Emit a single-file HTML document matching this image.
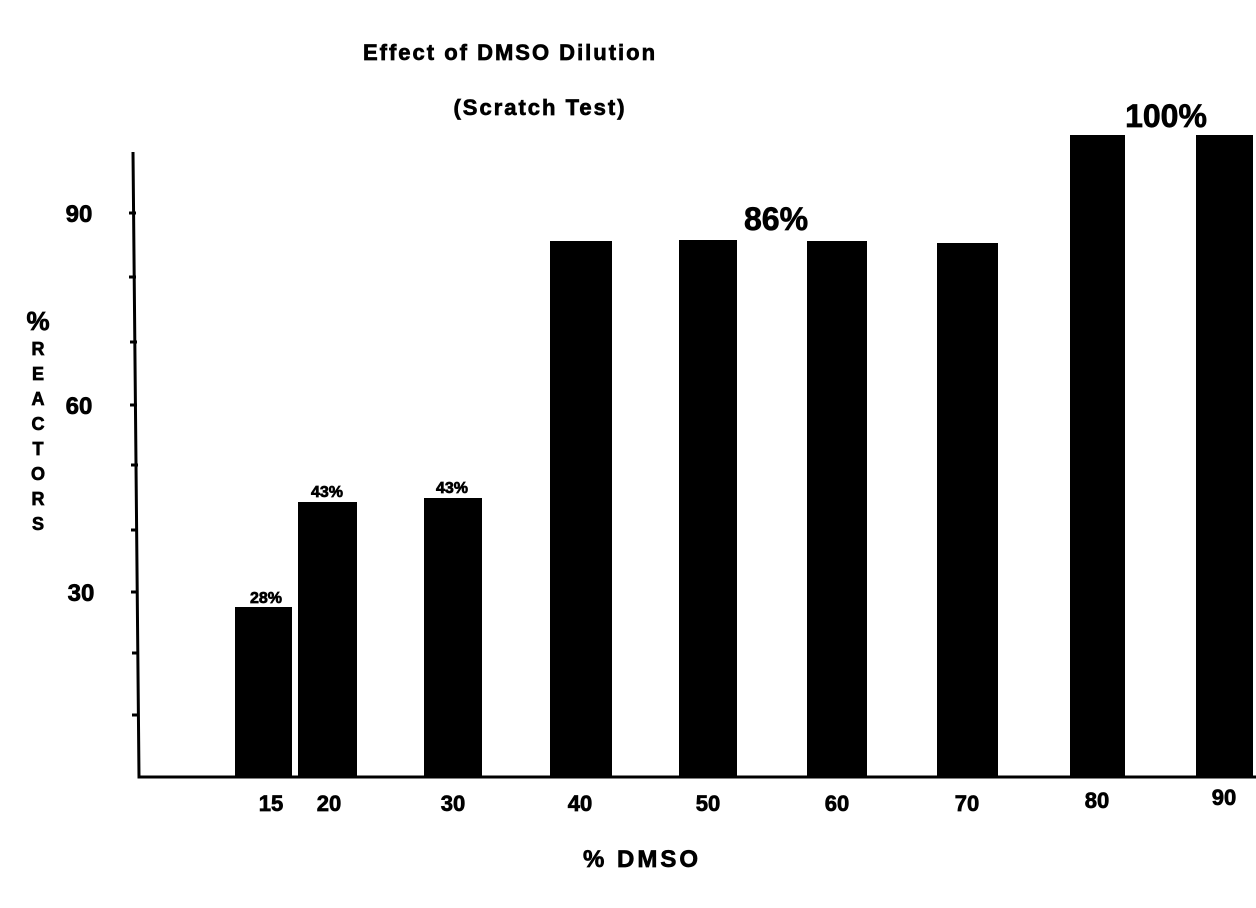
<!DOCTYPE html>
<html><head><meta charset="utf-8"><style>
html,body{margin:0;padding:0;background:#fff;}
svg{display:block;}
text{font-family:"Liberation Sans",sans-serif;font-weight:bold;fill:#000;stroke:#000;stroke-width:0.7;}
</style></head><body>
<svg width="1256" height="908" viewBox="0 0 1256 908" xmlns="http://www.w3.org/2000/svg">
<text x="510" y="60" font-size="22" text-anchor="middle" letter-spacing="2">Effect  of  DMSO  Dilution</text>
<text x="540" y="115" font-size="22" text-anchor="middle" letter-spacing="2">(Scratch  Test)</text>
<path d="M133 152 L139 777 L1256 777" stroke="#000" stroke-width="3" fill="none"/>
<g stroke="#000" stroke-width="3">
<line x1="129" y1="213" x2="136" y2="213"/>
<line x1="129" y1="277" x2="136" y2="277"/>
<line x1="130" y1="342" x2="137" y2="342"/>
<line x1="130" y1="405" x2="137" y2="405"/>
<line x1="131" y1="465" x2="138" y2="465"/>
<line x1="131" y1="530" x2="138" y2="530"/>
<line x1="131" y1="592" x2="138" y2="592"/>
<line x1="132" y1="653" x2="139" y2="653"/>
<line x1="132" y1="715" x2="139" y2="715"/>
</g>
<g font-size="24" text-anchor="middle">
<text x="79" y="222">90</text>
<text x="79" y="414">60</text>
<text x="81" y="601">30</text>
</g>
<g font-size="18" text-anchor="middle">
<text x="38" y="330" font-size="26">%</text>
<text x="38" y="355">R</text>
<text x="38" y="380">E</text>
<text x="38" y="405">A</text>
<text x="38" y="430">C</text>
<text x="38" y="455">T</text>
<text x="38" y="480">O</text>
<text x="38" y="505">R</text>
<text x="38" y="530">S</text>
</g>
<g fill="#000">
<rect x="235" y="607" width="57" height="170"/>
<rect x="298" y="502" width="59" height="275"/>
<rect x="424" y="498" width="58" height="279"/>
<rect x="550" y="241" width="62" height="536"/>
<rect x="679" y="240" width="58" height="537"/>
<rect x="807" y="241" width="60" height="536"/>
<rect x="937" y="243" width="61" height="534"/>
<rect x="1070" y="135" width="55" height="642"/>
<rect x="1196" y="135" width="57" height="642"/>
</g>
<text x="266" y="603" font-size="16" text-anchor="middle">28%</text>
<text x="327" y="497" font-size="16" text-anchor="middle">43%</text>
<text x="452" y="493" font-size="16" text-anchor="middle">43%</text>
<text x="776" y="230" font-size="32" text-anchor="middle">86%</text>
<text x="1166" y="127" font-size="32" text-anchor="middle">100%</text>
<g font-size="22" text-anchor="middle">
<text x="271" y="811">15</text>
<text x="329" y="811">20</text>
<text x="453" y="811">30</text>
<text x="580" y="811">40</text>
<text x="708" y="811">50</text>
<text x="837" y="811">60</text>
<text x="967" y="811">70</text>
<text x="1097" y="808">80</text>
<text x="1224" y="805">90</text>
</g>
<text x="642" y="867" font-size="24" text-anchor="middle" letter-spacing="3">% DMSO</text>
</svg>
</body></html>
